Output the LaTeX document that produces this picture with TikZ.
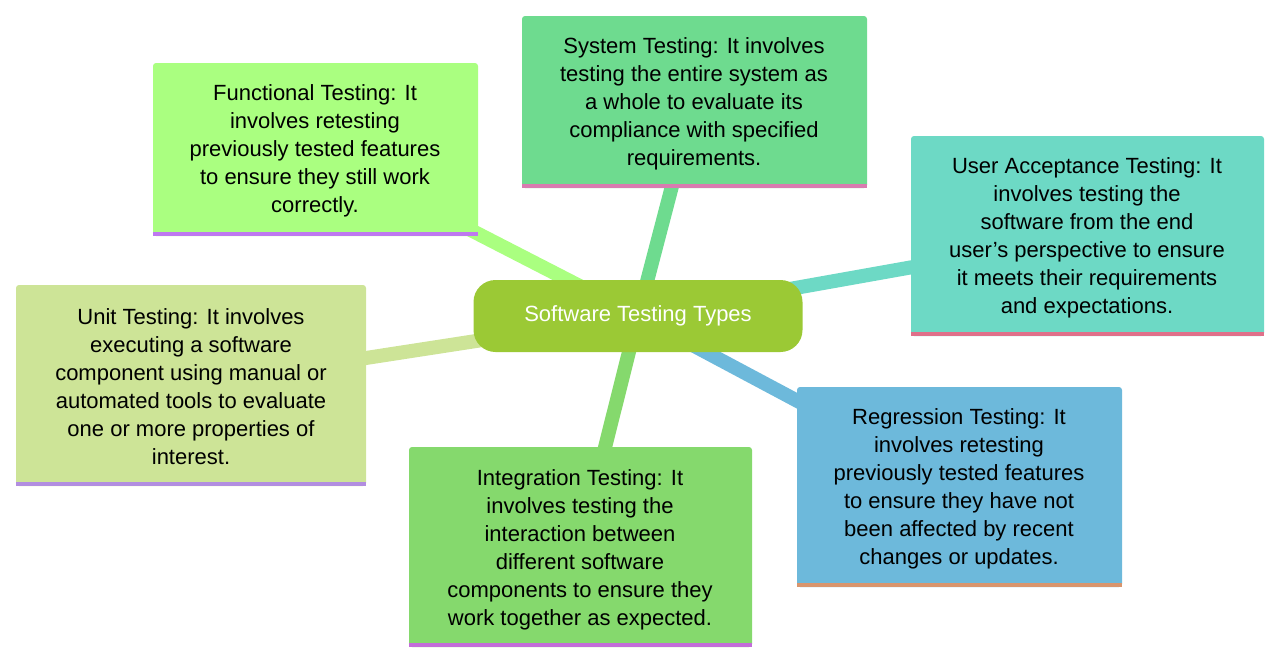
\documentclass[tikz,border=0pt]{standalone}
\usepackage{fontspec}
\setmainfont{Liberation Sans}
\begin{document}
\begin{tikzpicture}[x=1pt,y=-1pt,
  leaf/.style={rounded corners=3pt,align=center,inner sep=0pt,font=\fontsize{22}{28}\selectfont},
  edge/.style={line width=14pt}]
\useasboundingbox (0,0) rectangle (1280,662);
\definecolor{cF}{HTML}{AAFF80}\definecolor{cS}{HTML}{6EDB8F}\definecolor{cU}{HTML}{6DD9C5}
\definecolor{cR}{HTML}{6DB9DB}\definecolor{cI}{HTML}{85D96D}\definecolor{cN}{HTML}{CDE497}
\definecolor{cC}{HTML}{9BC935}
\definecolor{lF}{RGB}{190,120,240}\definecolor{lS}{RGB}{217,123,176}\definecolor{lU}{RGB}{224,112,138}
\definecolor{lR}{RGB}{217,149,109}\definecolor{lI}{RGB}{195,109,217}\definecolor{lN}{RGB}{178,142,224}
\coordinate (c) at (638,316);
\coordinate (pF) at (315,150);\coordinate (pS) at (694,102);\coordinate (pU) at (1087,236);
\coordinate (pR) at (959,487);\coordinate (pI) at (580,547);\coordinate (pN) at (191,385);
\draw[edge,cF] (c)--(pF); \draw[edge,cS] (c)--(pS); \draw[edge,cU] (c)--(pU);
\draw[edge,cR] (c)--(pR); \draw[edge,cI] (c)--(pI); \draw[edge,cN] (c)--(pN);
\fill[cF,rounded corners=3pt] (153,63) rectangle (478,236);
\fill[cS,rounded corners=3pt] (522,16) rectangle (867,188);
\fill[cU,rounded corners=3pt] (911,136) rectangle (1264,336);
\fill[cR,rounded corners=3pt] (797,387) rectangle (1122,587);
\fill[cI,rounded corners=3pt] (409,447) rectangle (752,647);
\fill[cN,rounded corners=3pt] (16,285) rectangle (366,486);
\fill[lF] (153,232) rectangle (478,236);
\fill[lS] (522,184) rectangle (867,188);
\fill[lU] (911,332) rectangle (1264,336);
\fill[lR] (797,583) rectangle (1122,587);
\fill[lI] (409,643) rectangle (752,647);
\fill[lN] (16,482) rectangle (366,486);
\node[leaf] (F) at (315,151) {Functional Testing: It\\involves retesting\\previously tested features\\to ensure they still work\\correctly.};
\node[leaf] (S) at (694,104) {System Testing: It involves\\testing the entire system as\\a whole to evaluate its\\compliance with specified\\requirements.};
\node[leaf] (U) at (1087,238) {User Acceptance Testing: It\\involves testing the\\software from the end\\user's perspective to ensure\\it meets their requirements\\and expectations.};
\node[leaf] (R) at (959,489) {Regression Testing: It\\involves retesting\\previously tested features\\to ensure they have not\\been affected by recent\\changes or updates.};
\node[leaf] (I) at (580,550) {Integration Testing: It\\involves testing the\\interaction between\\different software\\components to ensure they\\work together as expected.};
\node[leaf] (N) at (191,387) {Unit Testing: It involves\\executing a software\\component using manual or\\automated tools to evaluate\\one or more properties of\\interest.};
\node[fill=cC,rounded corners=22pt,minimum width=329pt,minimum height=72pt,text=white,font=\fontsize{22}{28}\selectfont] (C) at (c) {Software Testing Types};
\end{tikzpicture}
\end{document}
